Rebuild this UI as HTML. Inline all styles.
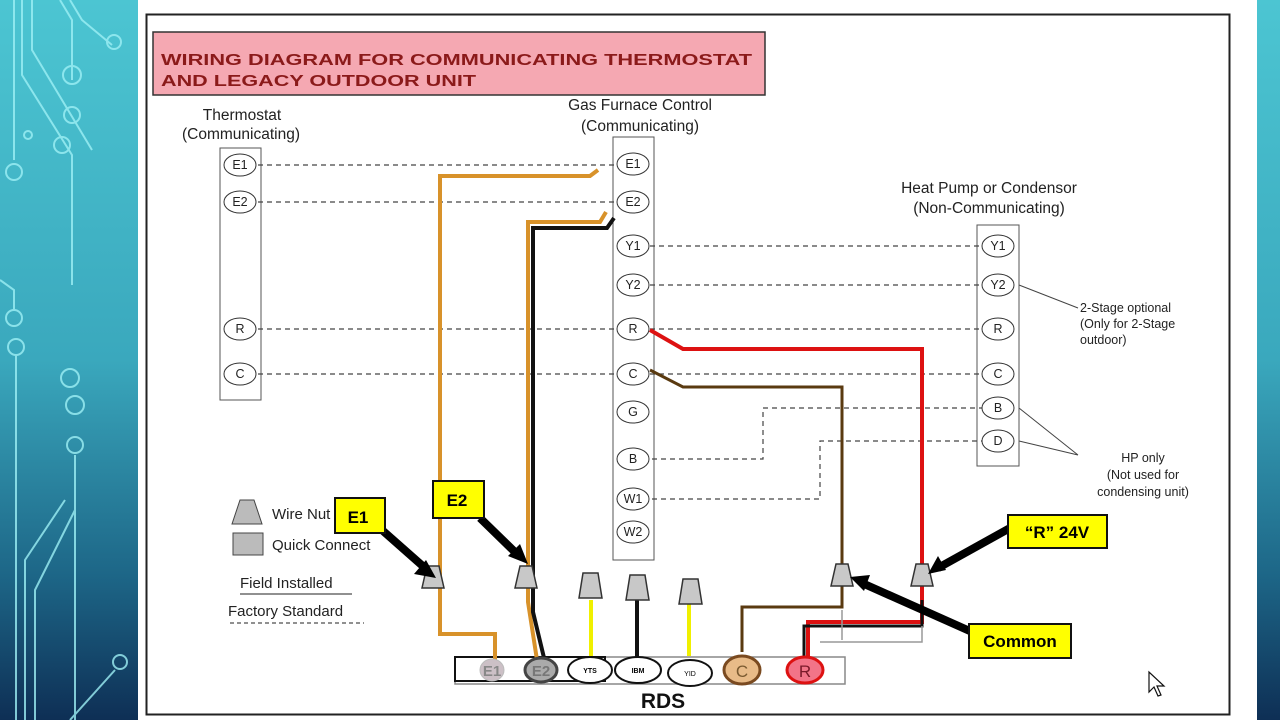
<!DOCTYPE html>
<html><head><style>
body{margin:0;width:1280px;height:720px;overflow:hidden;font-family:"Liberation Sans",sans-serif}
</style></head><body>
<svg width="1280" height="720" viewBox="0 0 1280 720" xmlns="http://www.w3.org/2000/svg" font-family="Liberation Sans, sans-serif">
<defs>
<linearGradient id="bg" x1="0" y1="0" x2="0" y2="1">
<stop offset="0" stop-color="#4cc5d2"/><stop offset="0.5" stop-color="#3aa8bd"/><stop offset="0.8" stop-color="#1d6687"/><stop offset="1" stop-color="#0e2f55"/>
</linearGradient>
</defs>
<rect width="1280" height="720" fill="url(#bg)"/>
<g stroke="#9ef0f5" stroke-width="2" fill="none" opacity="0.8">
<path d="M14 0V160M22 0V75l50 80v130M32 0V50l60 100M60 0l12 20v60M70 0l12 20 30 25"/>
<circle cx="14" cy="172" r="8"/><circle cx="72" cy="75" r="9"/><circle cx="72" cy="115" r="8"/><circle cx="62" cy="145" r="8"/><circle cx="114" cy="42" r="7"/><circle cx="28" cy="135" r="4"/>
<path d="M0 280l14 10v20"/><circle cx="14" cy="318" r="8"/><circle cx="16" cy="347" r="8"/><path d="M16 355V720M25 720V560l40-60M35 720V590l40-80M75 720V455M70 720l45-50"/>
<circle cx="70" cy="378" r="9"/><circle cx="75" cy="405" r="9"/><circle cx="75" cy="445" r="8"/><circle cx="120" cy="662" r="7"/>
</g>
<rect x="138" y="0" width="1119" height="720" fill="#fff"/>
<rect x="146.5" y="14.5" width="1083" height="700" fill="#fff" stroke="#222" stroke-width="2"/>
<rect x="153" y="32" width="612" height="63" fill="#f5a8b2" stroke="#333" stroke-width="1.5"/>
<text x="161" y="65" font-size="16" font-weight="bold" fill="#8b1a1a" textLength="591" lengthAdjust="spacingAndGlyphs">WIRING DIAGRAM FOR COMMUNICATING THERMOSTAT</text>
<text x="161" y="86" font-size="16" font-weight="bold" fill="#8b1a1a" textLength="315" lengthAdjust="spacingAndGlyphs">AND LEGACY OUTDOOR UNIT</text>
<g font-size="15.5" fill="#222" text-anchor="middle">
<text x="242" y="120">Thermostat</text><text x="241" y="139">(Communicating)</text>
<text x="640" y="110">Gas Furnace Control</text><text x="640" y="131">(Communicating)</text>
<text x="989" y="193">Heat Pump or Condensor</text><text x="989" y="213">(Non-Communicating)</text>
</g>
<g font-size="12.5" fill="#222">
<text x="1080" y="312">2-Stage optional</text><text x="1080" y="328">(Only for 2-Stage</text><text x="1080" y="344">outdoor)</text>
<text x="1143" y="462" text-anchor="middle">HP only</text><text x="1143" y="479" text-anchor="middle">(Not used for</text><text x="1143" y="496" text-anchor="middle">condensing unit)</text>
</g>
<g stroke="#444" fill="none" stroke-width="1">
<path d="M1019 285L1078 308M1019 408L1078 455M1019 441L1078 455"/>
</g>
<rect x="220" y="148" width="41" height="252" fill="#fff" stroke="#555"/>
<rect x="613" y="137" width="41" height="423" fill="#fff" stroke="#555"/>
<rect x="977" y="225" width="42" height="241" fill="#fff" stroke="#555"/>
<g stroke="#444" stroke-width="1.2" stroke-dasharray="5,4" fill="none">
<path d="M258 165H617M258 202H617M258 329H617M258 374H617M650 246H982M650 285H982M650 329H982M650 374H982"/>
<path d="M652 459H763V408H982M652 499H820V441H982"/>
</g>
<g font-size="12.5" fill="#222" text-anchor="middle">
<g stroke="#333" fill="#fff">
<ellipse cx="240" cy="165" rx="16" ry="11"/><ellipse cx="240" cy="202" rx="16" ry="11"/><ellipse cx="240" cy="329" rx="16" ry="11"/><ellipse cx="240" cy="374" rx="16" ry="11"/>
<ellipse cx="633" cy="164" rx="16" ry="11"/><ellipse cx="633" cy="202" rx="16" ry="11"/><ellipse cx="633" cy="246" rx="16" ry="11"/><ellipse cx="633" cy="285" rx="16" ry="11"/><ellipse cx="633" cy="329" rx="16" ry="11"/><ellipse cx="633" cy="374" rx="16" ry="11"/><ellipse cx="633" cy="412" rx="16" ry="11"/><ellipse cx="633" cy="459" rx="16" ry="11"/><ellipse cx="633" cy="499" rx="16" ry="11"/><ellipse cx="633" cy="532" rx="16" ry="11"/>
<ellipse cx="998" cy="246" rx="16" ry="11"/><ellipse cx="998" cy="285" rx="16" ry="11"/><ellipse cx="998" cy="329" rx="16" ry="11"/><ellipse cx="998" cy="374" rx="16" ry="11"/><ellipse cx="998" cy="408" rx="16" ry="11"/><ellipse cx="998" cy="441" rx="16" ry="11"/>
</g>
<text x="240" y="169">E1</text><text x="240" y="206">E2</text><text x="240" y="333">R</text><text x="240" y="378">C</text>
<text x="633" y="168">E1</text><text x="633" y="206">E2</text><text x="633" y="250">Y1</text><text x="633" y="289">Y2</text><text x="633" y="333">R</text><text x="633" y="378">C</text><text x="633" y="416">G</text><text x="633" y="463">B</text><text x="633" y="503">W1</text><text x="633" y="536">W2</text>
<text x="998" y="250">Y1</text><text x="998" y="289">Y2</text><text x="998" y="333">R</text><text x="998" y="378">C</text><text x="998" y="412">B</text><text x="998" y="445">D</text>
</g>
<!-- legend -->
<path d="M240 500h14l8 24h-30z" fill="#bbb" stroke="#444"/>
<rect x="233" y="533" width="30" height="22" fill="#bbb" stroke="#444"/>
<text x="272" y="519" font-size="15" fill="#222">Wire Nut</text>
<text x="272" y="550" font-size="15" fill="#222">Quick Connect</text>
<text x="240" y="588" font-size="15" fill="#222">Field Installed</text>
<line x1="240" y1="594" x2="352" y2="594" stroke="#222"/>
<text x="228" y="616" font-size="15" fill="#222">Factory Standard</text>
<line x1="230" y1="623" x2="364" y2="623" stroke="#222" stroke-dasharray="4,3"/>
<!-- RDS -->
<rect x="455" y="657" width="390" height="27" fill="#fff" stroke="#888" stroke-width="1.5"/>
<rect x="455" y="657" width="150" height="24" fill="none" stroke="#111" stroke-width="2"/>
<!-- wires -->
<g fill="none" stroke-width="4">
<path d="M598 170L590 176H440V634H495V660" stroke="#d8922a"/>
<path d="M606 212L600 222H528V602L537 660" stroke="#d8922a"/>
<path d="M614 218L607 228H533V612L545 662" stroke="#111"/>
<path d="M650 330L683 349H922V622H808V660" stroke="#d11"/>
<path d="M922 600V626H804V660" stroke="#111" stroke-width="3"/>
<path d="M650 370L683 387H842V607H742V652" stroke="#5a3a10" stroke-width="3"/>
<path d="M842 610V640M922 626V642H820" stroke="#999" stroke-width="1.5"/>
<path d="M591 600V656" stroke="#f0f000"/>
<path d="M637 600V657" stroke="#111"/>
<path d="M689 604V656" stroke="#f0f000"/>
</g>
<g fill="#c8c8c8" stroke="#333" stroke-width="1.5">
<path d="M427 566h12l5 22h-22z"/><path d="M520 566h12l5 22h-22z"/>
<path d="M583 573h15l4 25h-23z"/><path d="M630 575h15l4 25h-23z"/><path d="M683 579h15l4 25h-23z"/>
<path d="M836 564h12l5 22h-22z"/><path d="M916 564h12l5 22h-22z"/>
</g>
<!-- terminals -->
<g text-anchor="middle" font-weight="bold">
<ellipse cx="492" cy="670" rx="12" ry="11" fill="#ccc0c6" stroke="#bbb"/><text x="492" y="676" font-size="15" fill="#888">E1</text>
<ellipse cx="541" cy="670" rx="16" ry="12" fill="#aaa" stroke="#444" stroke-width="3"/><text x="541" y="676" font-size="15" fill="#777">E2</text>
<ellipse cx="590" cy="670" rx="22" ry="13" fill="#fff" stroke="#111" stroke-width="2"/><text x="590" y="673" font-size="7">YTS</text>
<ellipse cx="638" cy="670" rx="23" ry="13" fill="#fff" stroke="#111" stroke-width="2"/><text x="638" y="673" font-size="7">IBM</text>
<ellipse cx="690" cy="673" rx="22" ry="13" fill="#fff" stroke="#111" stroke-width="2"/><text x="690" y="676" font-size="7" font-weight="normal">YID</text>
<ellipse cx="742" cy="670" rx="18" ry="14" fill="#e8bb88" stroke="#7a4a20" stroke-width="3"/><text x="742" y="677" font-size="17" fill="#7a5a30" font-weight="normal">C</text>
<ellipse cx="805" cy="670" rx="18" ry="13" fill="#f27488" stroke="#d11" stroke-width="3"/><text x="805" y="677" font-size="17" fill="#7a1a2a" font-weight="normal">R</text>
<text x="663" y="708" font-size="21" fill="#111">RDS</text>
</g>
<!-- arrows -->
<g stroke="#000" stroke-width="8" fill="none">
<path d="M382 530L425 568"/><path d="M480 518L518 555"/><path d="M1010 528L938 568"/><path d="M972 632L862 583"/>
</g>
<g fill="#000">
<path d="M436 578l-22-4 12-14z"/><path d="M528 564l-20-8 12-12z"/><path d="M928 574l10-18 8 14z"/><path d="M850 577l20-2-6 16z"/>
</g>
<g font-weight="bold" text-anchor="middle" font-size="17">
<rect x="335" y="498" width="50" height="35" fill="#ffff00" stroke="#111" stroke-width="2"/><text x="358" y="523">E1</text>
<rect x="433" y="481" width="51" height="37" fill="#ffff00" stroke="#111" stroke-width="2"/><text x="457" y="506">E2</text>
<rect x="1008" y="515" width="99" height="33" fill="#ffff00" stroke="#111" stroke-width="2"/><text x="1057" y="538">“R” 24V</text>
<rect x="969" y="624" width="102" height="34" fill="#ffff00" stroke="#111" stroke-width="2"/><text x="1020" y="647">Common</text>
</g>
<path d="M1149 672v20l5-5 4 9 3-1-4-9h7z" fill="#fff" stroke="#111" stroke-width="1.2"/>
</svg>
</body></html>
